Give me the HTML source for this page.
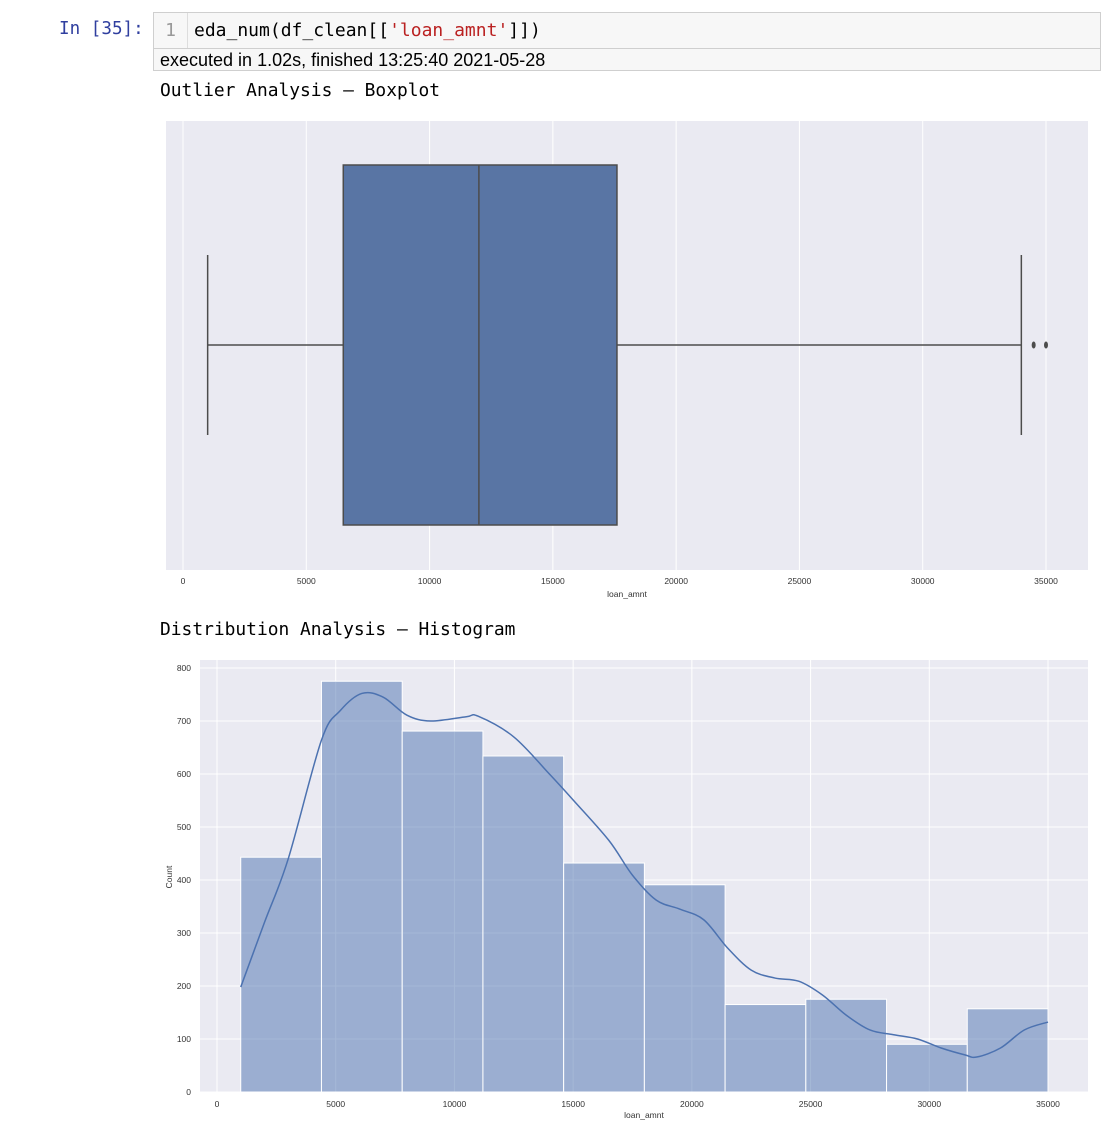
<!DOCTYPE html>
<html><head><meta charset="utf-8">
<style>
body{margin:0;width:1114px;height:1122px;background:#fff;position:relative;overflow:hidden;font-family:"Liberation Sans",sans-serif}
.abs{position:absolute}
.mono{font-family:"DejaVu Sans Mono","Liberation Mono",monospace}
</style></head><body>
<div class="abs mono" style="left:59px;top:19px;font-size:17.6px;color:#303F9F">In [35]:</div>
<div class="abs" style="left:153px;top:12px;width:946px;height:57px;border:1px solid #cfcfcf;background:#f7f7f7">
  <div class="abs mono" style="left:0;top:0;width:33px;height:35px;border-right:1px solid #ddd;color:#999;font-size:18px;text-align:center;line-height:35px">1</div>
  <div class="abs mono" style="left:40px;top:0;line-height:35px;font-size:18px;color:#000">eda_num(df_clean[[<span style="color:#BA2121">'loan_amnt'</span>]])</div>
  <div class="abs" style="left:0;top:35px;width:946px;height:22px;border-top:1px solid #cfcfcf;font-size:18px;line-height:22px;padding-left:6px;box-sizing:border-box;color:#000">executed in 1.02s, finished 13:25:40 2021-05-28</div>
</div>
<div class="abs mono" style="left:160px;top:80px;font-size:17.9px">Outlier Analysis – Boxplot</div>
<div class="abs mono" style="left:160px;top:619px;font-size:17.9px">Distribution Analysis – Histogram</div>
<svg id="chart" class="abs" style="left:0;top:0" width="1114" height="1122"></svg>
<script>
const xTicks=[0,5000,10000,15000,20000,25000,30000,35000];
const boxStats=[1000,6500,12000,17600,34000];
const outliers=[34500,35000];
const binEdges=[1000,4400,7800,11200,14600,18000,21400,24800,28200,31600,35000];
const binCounts=[443,775,681,634,432,391,165,175,90,157];
const yTicks=[0,100,200,300,400,500,600,700,800];
const kdeX=[1000,2000,3000,4400,5200,6100,7000,8000,9000,10500,11000,12500,14000,15000,16500,17500,18500,19500,20500,21500,22500,23500,24500,25500,26500,27500,28500,29500,30500,31500,32000,33000,34000,35000];
const kdeY=[198,320,440,664,720,752,745,711,700,708,709,670,600,551,475,409,362,345,325,272,230,215,209,183,145,117,108,100,83,70,66,83,117,132];

const svg=document.getElementById('chart');
const NS='http://www.w3.org/2000/svg';
function mk(t,a){const e=document.createElementNS(NS,t);for(const k in a)e.setAttribute(k,a[k]);svg.appendChild(e);return e;}
const bx=v=>183+v*(863/35000);
const bg1=mk('rect',{x:166,y:121,width:922,height:449,fill:'#eaeaf2'});


xTicks.forEach(t=>{
  const l=mk('line',{x1:bx(t),x2:bx(t),y1:121,y2:570,stroke:'#fff','stroke-width':1});
  
  
  const tx=mk('text',{x:bx(t),y:584,'text-anchor':'middle','font-size':8.5,fill:'#333'});
  tx.textContent=t;
  
  
});
const bxl=mk('text',{x:627,y:597,'text-anchor':'middle','font-size':8.5,fill:'#333'});bxl.textContent='loan_amnt';


const gc='#4c4c4c';
const wl=mk('line',{x1:bx(boxStats[0]),x2:bx(boxStats[1]),y1:345,y2:345,stroke:gc,'stroke-width':1.5});


const wr=mk('line',{x1:bx(boxStats[3]),x2:bx(boxStats[4]),y1:345,y2:345,stroke:gc,'stroke-width':1.5});


[0,4].forEach(i=>{const c=mk('line',{x1:bx(boxStats[i]),x2:bx(boxStats[i]),y1:255,y2:435,stroke:gc,'stroke-width':1.5});

});
const box=mk('rect',{x:bx(boxStats[1]),y:165,width:bx(boxStats[3])-bx(boxStats[1]),height:360,fill:'#5975a4',stroke:gc,'stroke-width':1.5});


const med=mk('line',{x1:bx(boxStats[2]),x2:bx(boxStats[2]),y1:165,y2:525,stroke:gc,'stroke-width':1.5});


outliers.forEach(o=>{const d=mk('ellipse',{cx:bx(o),cy:345,rx:2,ry:3.5,fill:gc});

});

const hx=v=>217+v*(831/35000);
const hy=v=>1092-v*0.53;
const bg2=mk('rect',{x:200,y:660,width:888,height:432,fill:'#eaeaf2'});


xTicks.forEach(t=>{
  const l=mk('line',{x1:hx(t),x2:hx(t),y1:660,y2:1092,stroke:'#fff','stroke-width':1});
  
  
  const tx=mk('text',{x:hx(t),y:1107,'text-anchor':'middle','font-size':8.5,fill:'#333'});
  tx.textContent=t;
  
  
});
yTicks.forEach(t=>{
  const l=mk('line',{x1:200,x2:1088,y1:hy(t),y2:hy(t),stroke:'#fff','stroke-width':1});
  
  
  const tx=mk('text',{x:191,y:hy(t)+3,'text-anchor':'end','font-size':8.5,fill:'#333'});
  tx.textContent=t;
  
  
});
binCounts.forEach((c,i)=>{
  const r=mk('rect',{x:hx(binEdges[i]),y:hy(c),width:hx(binEdges[i+1])-hx(binEdges[i]),height:hy(0)-hy(c),fill:'rgba(76,114,176,0.5)',stroke:'#fff','stroke-width':1});
  
  
});
const pts=kdeX.map((x,i)=>[hx(x),hy(kdeY[i])]);
let d='M'+pts[0][0]+','+pts[0][1];
for(let i=0;i<pts.length-1;i++){
  const p0=pts[Math.max(i-1,0)],p1=pts[i],p2=pts[i+1],p3=pts[Math.min(i+2,pts.length-1)];
  d+=' C'+(p1[0]+(p2[0]-p0[0])/6)+','+(p1[1]+(p2[1]-p0[1])/6)+' '+(p2[0]-(p3[0]-p1[0])/6)+','+(p2[1]-(p3[1]-p1[1])/6)+' '+p2[0]+','+p2[1];
}
const kde=mk('path',{d:d,fill:'none',stroke:'#4c72b0','stroke-width':1.5});


const hxl=mk('text',{x:644,y:1118,'text-anchor':'middle','font-size':8.5,fill:'#333'});hxl.textContent='loan_amnt';


const hyl=mk('text',{x:172,y:877,'text-anchor':'middle','font-size':8.5,fill:'#333',transform:'rotate(-90 172 877)'});hyl.textContent='Count';


</script>
</body></html>
